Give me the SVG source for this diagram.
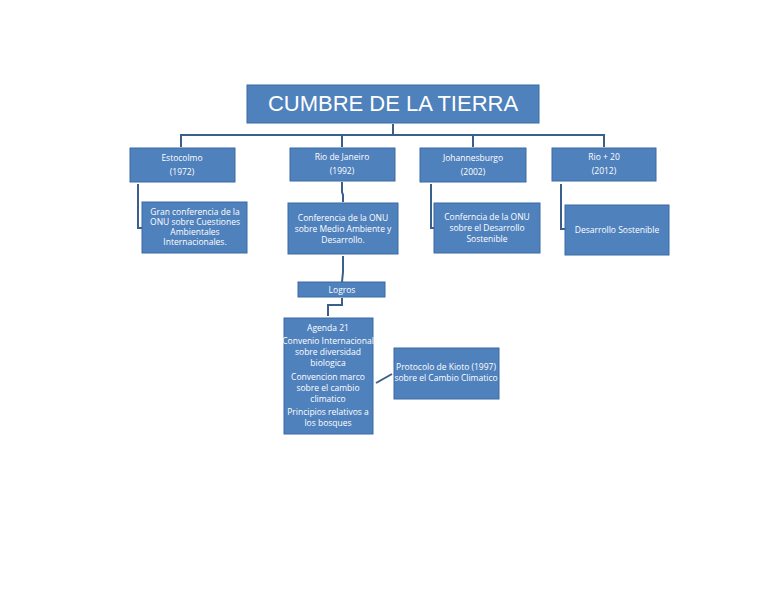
<svg xmlns="http://www.w3.org/2000/svg" width="768" height="594" viewBox="0 0 768 594">
<style>
.b{fill:#4f81bd;stroke:#3a6aa3;stroke-width:1}
.t{font-family:"Open Sans","DejaVu Sans",sans-serif;font-size:8.5px;fill:#fff;text-anchor:middle}
.c{fill:none;stroke:#3a5f8a;stroke-width:2}
</style>
<rect width="768" height="594" fill="#fff"/>
<g id="connectors">
<path class="c" d="M393 124V135M181 147V135H604V147M342 135V147M473 135V147"/>
<path class="c" d="M138 184V228H142"/>
<path class="c" d="M342 182V192L343 195V202"/>
<path class="c" d="M431 184V228H434"/>
<path class="c" d="M561 184V229H565"/>
<path class="c" d="M343 256V272L342 282"/>
<path class="c" d="M342 298V305H328V316"/>
<path class="c" d="M376 383L392 374"/>
</g>
<g id="root"><rect class="b" x="247" y="85" width="292" height="38"/><text x="393" y="111" style="font-family:'Liberation Sans',Arial,sans-serif;font-size:22px;fill:#fff;text-anchor:middle">CUMBRE DE LA TIERRA</text></g>
<g id="n1"><rect class="b" x="130" y="148" width="105" height="34"/><text class="t" x="182" y="161">Estocolmo</text><text class="t" x="182" y="175">(1972)</text></g>
<g id="n2"><rect class="b" x="290" y="148" width="105" height="33"/><text class="t" x="342" y="160">Rio de Janeiro</text><text class="t" x="342" y="174">(1992)</text></g>
<g id="n3"><rect class="b" x="420" y="148" width="106" height="34"/><text class="t" x="473" y="161">Johannesburgo</text><text class="t" x="473" y="175">(2002)</text></g>
<g id="n4"><rect class="b" x="552" y="148" width="104" height="33"/><text class="t" x="604" y="160">Rio + 20</text><text class="t" x="604" y="174">(2012)</text></g>
<g id="d1"><rect class="b" x="142" y="202" width="105" height="51"/><text class="t" x="195" y="215">Gran conferencia de la</text><text class="t" x="195" y="225">ONU sobre Cuestiones</text><text class="t" x="195" y="235">Ambientales</text><text class="t" x="195" y="245">Internacionales.</text></g>
<g id="d2"><rect class="b" x="288" y="203" width="110" height="51"/><text class="t" x="343" y="221">Conferencia de la ONU</text><text class="t" x="343" y="232">sobre Medio Ambiente y</text><text class="t" x="343" y="243">Desarrollo.</text></g>
<g id="d3"><rect class="b" x="434" y="203" width="106" height="50"/><text class="t" x="487" y="220">Conferncia de la ONU</text><text class="t" x="487" y="231">sobre el Desarrollo</text><text class="t" x="487" y="242">Sostenible</text></g>
<g id="d4"><rect class="b" x="565" y="205" width="104" height="50"/><text class="t" x="617" y="233">Desarrollo Sostenible</text></g>
<g id="logros"><rect class="b" x="298" y="282" width="87" height="15"/><text class="t" x="342" y="293">Logros</text></g>
<g id="list"><rect class="b" x="284" y="318" width="89" height="116"/>
<text class="t" x="328" y="331">Agenda 21</text><text class="t" x="328" y="344">Convenio Internacional</text><text class="t" x="328" y="355">sobre diversidad</text><text class="t" x="328" y="366">biologica</text><text class="t" x="328" y="380">Convencion marco</text><text class="t" x="328" y="391">sobre el cambio</text><text class="t" x="328" y="402">climatico</text><text class="t" x="328" y="415">Principios relativos a</text><text class="t" x="328" y="426">los bosques</text></g>
<g id="kioto"><rect class="b" x="394" y="348" width="105" height="51"/><text class="t" x="446" y="370">Protocolo de Kioto (1997)</text><text class="t" x="446" y="381">sobre el Cambio Climatico</text></g>
</svg>
